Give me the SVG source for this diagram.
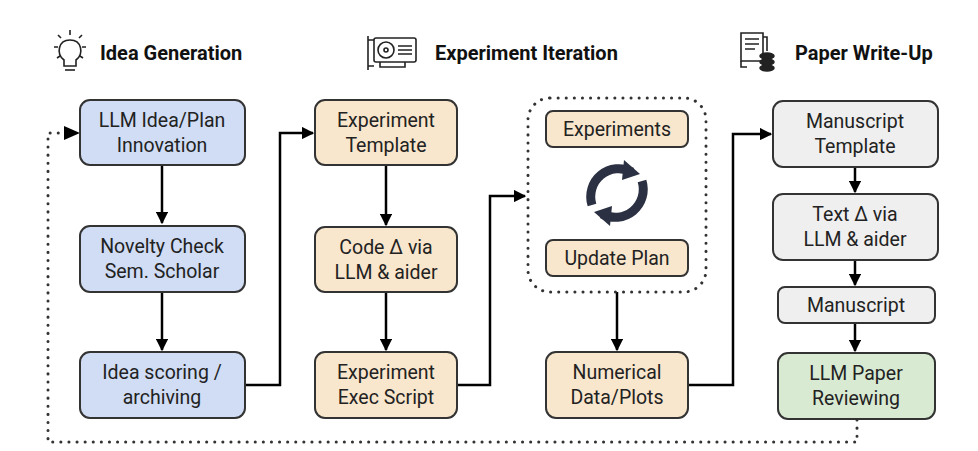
<svg xmlns="http://www.w3.org/2000/svg" width="978" height="451" viewBox="0 0 978 451">
<style>
.b{stroke:#333;stroke-width:2}
.blue{fill:#d0ddf4}.tan{fill:#f9e7cd}.gray{fill:#efefef}.green{fill:#d9ead3}
text{font-family:Roboto,"Liberation Sans",sans-serif;font-size:19.5px;fill:#222;text-anchor:middle}
.h{font-weight:bold;font-size:20px;text-anchor:start;fill:#111}
.c{fill:none;stroke:#000;stroke-width:2.5}
.d{fill:none;stroke:#333;stroke-width:3;stroke-dasharray:0.1 8;stroke-linecap:round}
.ic{fill:none;stroke:#222;stroke-width:1.6}
</style>
<defs>
<marker id="a" viewBox="0 0 10 10" refX="9" refY="5" markerWidth="5" markerHeight="5" orient="auto-start-reverse" markerUnits="strokeWidth"><path d="M0,0L10,5L0,10z" fill="#000"/></marker>
</defs>
<g id="headers">
<g class="ic"><path d="M64,60 C56,54 58,40 70,40 C82,40 84,54 76,60 L76,66 L64,66 Z"/><path d="M65,70h10"/><path d="M70,30v5M58,35l3,3M82,35l-3,3M54,47h4M82,47h4M57,58l3-2M83,58l-3-2"/></g>
<text class="h" x="100" y="60">Idea Generation</text>
<g class="ic"><rect x="374" y="38" width="42" height="24" rx="2"/><circle cx="386" cy="50" r="8"/><circle cx="386" cy="50" r="2"/><path d="M368,36v34M368,40h6M368,66h6M398,46h14M398,50h14M398,54h14M380,62v5h25v-5"/></g>
<text class="h" x="435" y="60">Experiment Iteration</text>
<g class="ic"><path d="M741,33h22v28h-22z"/><path d="M745,39h14M745,44h14M745,49h10"/><path d="M763,37h4v14M741,61v6h6"/><ellipse cx="767" cy="56" rx="7" ry="3" fill="#222"/><ellipse cx="767" cy="62" rx="7" ry="3" fill="#222"/><ellipse cx="767" cy="68" rx="7" ry="3" fill="#222"/></g>
<text class="h" x="795" y="60">Paper Write-Up</text>
</g>
<g id="connectors">
<path class="c" d="M162,165V223" marker-end="url(#a)"/>
<path class="c" d="M162,292V350" marker-end="url(#a)"/>
<path class="c" d="M245,385H280V133H313" marker-end="url(#a)"/>
<path class="c" d="M386,165V225" marker-end="url(#a)"/>
<path class="c" d="M386,292V350" marker-end="url(#a)"/>
<path class="c" d="M457,385H490V196H525" marker-end="url(#a)"/>
<path class="c" d="M617,292V350" marker-end="url(#a)"/>
<path class="c" d="M688,385H733V134H771" marker-end="url(#a)"/>
<path class="c" d="M855,167V192" marker-end="url(#a)"/>
<path class="c" d="M855,260V285" marker-end="url(#a)"/>
<path class="c" d="M855,323V351" marker-end="url(#a)"/>
<path class="d" d="M857,420V442H48V133H66"/>
<path d="M64,126L80,133L64,140z" fill="#000"/>
</g>
<g id="n1"><rect class="b blue" x="80" y="100" width="165" height="65" rx="10"/><text x="162" y="127">LLM Idea/Plan</text><text x="162" y="152">Innovation</text></g>
<g id="n2"><rect class="b blue" x="80" y="226" width="165" height="66" rx="10"/><text x="162" y="253">Novelty Check</text><text x="162" y="278">Sem. Scholar</text></g>
<g id="n3"><rect class="b blue" x="80" y="352" width="165" height="66" rx="10"/><text x="162" y="379">Idea scoring /</text><text x="162" y="404">archiving</text></g>
<g id="n4"><rect class="b tan" x="315" y="100" width="142" height="65" rx="10"/><text x="386" y="127">Experiment</text><text x="386" y="152">Template</text></g>
<g id="n5"><rect class="b tan" x="315" y="227" width="142" height="65" rx="10"/><text x="386" y="254">Code Δ via</text><text x="386" y="279">LLM &amp; aider</text></g>
<g id="n6"><rect class="b tan" x="315" y="352" width="142" height="66" rx="10"/><text x="386" y="379">Experiment</text><text x="386" y="404">Exec Script</text></g>
<g id="loop">
<rect class="d" x="528" y="98" width="178" height="194" rx="22"/>
<rect class="b tan" x="546" y="111" width="142" height="36" rx="7"/><text x="617" y="136">Experiments</text>
<rect class="b tan" x="546" y="240" width="142" height="36" rx="7"/><text x="617" y="265">Update Plan</text>
<g fill="none" stroke="#2b3142" stroke-width="9"><path d="M632,172 A28,28 0 0 0 592,205"/><path d="M602,214 A28,28 0 0 0 642,181"/></g>
<path d="M624,160L640,174L622,180z" fill="#2b3142"/><path d="M610,226L594,212L612,206z" fill="#2b3142"/>
</g>
<g id="n7"><rect class="b tan" x="546" y="352" width="142" height="66" rx="10"/><text x="617" y="379">Numerical</text><text x="617" y="404">Data/Plots</text></g>
<g id="n8"><rect class="b gray" x="773" y="101" width="165" height="66" rx="10"/><text x="855" y="128">Manuscript</text><text x="855" y="153">Template</text></g>
<g id="n9"><rect class="b gray" x="773" y="194" width="165" height="66" rx="10"/><text x="855" y="221">Text Δ via</text><text x="855" y="246">LLM &amp; aider</text></g>
<g id="n10"><rect class="b gray" x="778" y="287" width="157" height="36" rx="7"/><text x="856" y="312">Manuscript</text></g>
<g id="n11"><rect class="b green" x="778" y="353" width="157" height="66" rx="10"/><text x="856" y="380">LLM Paper</text><text x="856" y="405">Reviewing</text></g>
</svg>
